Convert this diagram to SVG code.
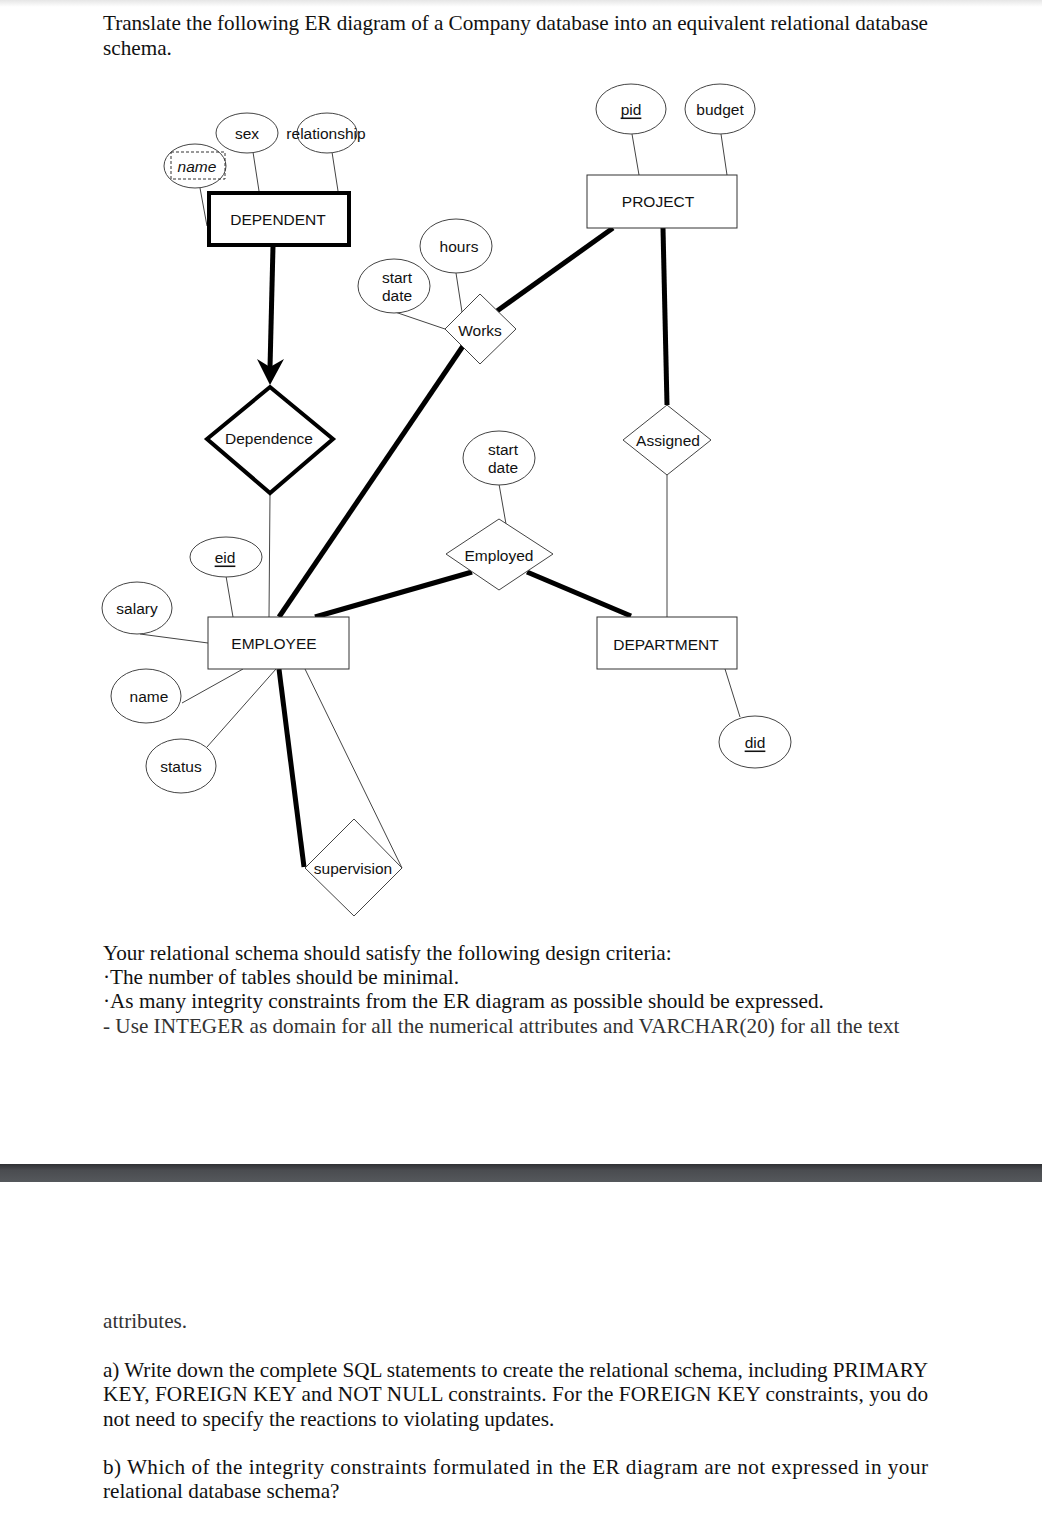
<svg xmlns="http://www.w3.org/2000/svg" width="1042" height="1524" viewBox="0 0 1042 1524">
<defs>
<linearGradient id="bar" x1="0" y1="0" x2="0" y2="1">
<stop offset="0" stop-color="#2f3033"/>
<stop offset="0.35" stop-color="#4a4c50"/>
<stop offset="1" stop-color="#55585c"/>
</linearGradient>
<linearGradient id="topshade" x1="0" y1="0" x2="0" y2="1">
<stop offset="0" stop-color="#e6e6e6"/>
<stop offset="1" stop-color="#ffffff"/>
</linearGradient>
</defs>
<style>
.doc{font-family:"Liberation Serif","Times New Roman",serif;font-size:21.2px;fill:#111}
.lbl{font-family:"Liberation Sans",Arial,Helvetica,sans-serif;font-size:15.5px;fill:#111;text-anchor:middle;dominant-baseline:central}
.attr{fill:#fff;stroke:#444;stroke-width:1}
.ent{fill:#fff;stroke:#333;stroke-width:1}
.weak{fill:#fff;stroke:#000;stroke-width:4}
.rel{fill:#fff;stroke:#444;stroke-width:1}
.thin{stroke:#444;stroke-width:1;fill:none}
.thick{stroke:#000;stroke-width:5;fill:none}
.key{text-decoration:underline}
</style>
<rect x="0" y="0" width="1042" height="1524" fill="#fff"/>
<rect x="0" y="0" width="1042" height="7" fill="url(#topshade)"/>

<text class="doc" x="103" y="30" textLength="825" lengthAdjust="spacing">Translate the following ER diagram of a Company database into an equivalent relational database</text>
<text class="doc" x="103" y="55">schema.</text>

<g id="connectors">
<line class="thin" x1="632" y1="134" x2="639" y2="175"/>
<line class="thin" x1="721" y1="134" x2="727" y2="175"/>
<line class="thin" x1="253" y1="152" x2="259" y2="191"/>
<line class="thin" x1="332" y1="152" x2="338" y2="191"/>
<line class="thin" x1="200" y1="188" x2="207" y2="226"/>
<line class="thin" x1="456" y1="273" x2="462" y2="312"/>
<line class="thin" x1="395" y1="312" x2="445" y2="329"/>
<line class="thin" x1="499" y1="484" x2="506" y2="524"/>
<line class="thin" x1="667" y1="475" x2="667" y2="617"/>
<line class="thin" x1="270" y1="494" x2="269" y2="617"/>
<line class="thin" x1="226" y1="576" x2="233" y2="617"/>
<line class="thin" x1="140" y1="634" x2="208" y2="643"/>
<line class="thin" x1="182" y1="703" x2="243" y2="669"/>
<line class="thin" x1="207" y1="747" x2="276" y2="669"/>
<line class="thin" x1="305" y1="669" x2="402" y2="868"/>
<line class="thin" x1="725" y1="669" x2="740" y2="717"/>
<line class="thick" x1="613" y1="228" x2="497" y2="311"/>
<line class="thick" x1="663" y1="228" x2="667" y2="405"/>
<line class="thick" x1="279" y1="617" x2="463" y2="346"/>
<line class="thick" x1="315" y1="617" x2="472" y2="572"/>
<line class="thick" x1="527" y1="572" x2="631" y2="616"/>
<line class="thick" x1="279" y1="669" x2="304" y2="867"/>
<line class="thick" x1="273" y1="246" x2="270" y2="368"/>
<path d="M257,359 L270,385 L284,359 L270,367 Z" fill="#000"/>
</g>

<g id="pid"><ellipse class="attr" cx="631" cy="109" rx="35" ry="25"/><text class="lbl key" x="631" y="109">pid</text></g>
<g id="budget"><ellipse class="attr" cx="720" cy="109" rx="35" ry="25"/><text class="lbl" x="720" y="109">budget</text></g>
<g id="project"><rect class="ent" x="587" y="175" width="150" height="53"/><text class="lbl" x="658" y="201">PROJECT</text></g>

<g id="sex"><ellipse class="attr" cx="247" cy="133" rx="31" ry="20"/><text class="lbl" x="247" y="133">sex</text></g>
<g id="relationship"><ellipse class="attr" cx="327" cy="133" rx="30" ry="20"/><text class="lbl" x="326" y="133">relationship</text></g>
<g id="dep-name"><ellipse class="attr" cx="195" cy="166" rx="31" ry="22"/><rect x="171" y="152" width="54" height="27" fill="none" stroke="#333" stroke-width="1" stroke-dasharray="3,2"/><text class="lbl" x="197" y="166" font-style="italic">name</text></g>
<g id="dependent"><rect class="weak" x="209" y="193" width="140" height="52"/><text class="lbl" x="278" y="219">DEPENDENT</text></g>

<g id="hours"><ellipse class="attr" cx="456" cy="246" rx="36" ry="27"/><text class="lbl" x="459" y="246">hours</text></g>
<g id="works-start"><ellipse class="attr" cx="394" cy="286" rx="36" ry="27"/><text class="lbl" x="397" y="277">start</text><text class="lbl" x="397" y="295">date</text></g>
<g id="works"><polygon class="rel" points="480,294 516,329 480,364 445,329"/><text class="lbl" x="480" y="330">Works</text></g>

<g id="dependence"><polygon class="weak" points="270,387 333,439 270,493 207,439"/><text class="lbl" x="269" y="438">Dependence</text></g>

<g id="assigned"><polygon class="rel" points="667,405 711,440 667,475 623,440"/><text class="lbl" x="668" y="440">Assigned</text></g>

<g id="employed-start"><ellipse class="attr" cx="499" cy="458" rx="36" ry="27"/><text class="lbl" x="503" y="449">start</text><text class="lbl" x="503" y="467">date</text></g>
<g id="employed"><polygon class="rel" points="499,519 553,554 499,590 446,554"/><text class="lbl" x="499" y="555">Employed</text></g>

<g id="eid"><ellipse class="attr" cx="226" cy="557" rx="36" ry="20"/><text class="lbl key" x="225" y="557">eid</text></g>
<g id="salary"><ellipse class="attr" cx="137" cy="608" rx="35" ry="26"/><text class="lbl" x="137" y="608">salary</text></g>
<g id="employee"><rect class="ent" x="208" y="617" width="141" height="52"/><text class="lbl" x="274" y="643">EMPLOYEE</text></g>
<g id="emp-name"><ellipse class="attr" cx="146" cy="696" rx="35" ry="27"/><text class="lbl" x="149" y="696">name</text></g>
<g id="status"><ellipse class="attr" cx="181" cy="766" rx="35" ry="27"/><text class="lbl" x="181" y="766">status</text></g>
<g id="supervision"><polygon class="rel" points="354,819 402,868 354,916 305,868"/><text class="lbl" x="353" y="868">supervision</text></g>

<g id="department"><rect class="ent" x="597" y="617" width="140" height="52"/><text class="lbl" x="666" y="644">DEPARTMENT</text></g>
<g id="did"><ellipse class="attr" cx="755" cy="742" rx="36" ry="26"/><text class="lbl key" x="755" y="742">did</text></g>

<text class="doc" x="103" y="960">Your relational schema should satisfy the following design criteria:</text>
<text class="doc" x="103" y="984">·The number of tables should be minimal.</text>
<text class="doc" x="103" y="1008">·As many integrity constraints from the ER diagram as possible should be expressed.</text>
<text class="doc" x="103" y="1033" style="fill:#333">- Use INTEGER as domain for all the numerical attributes and VARCHAR(20) for all the text</text>

<rect x="0" y="1164" width="1042" height="18" fill="url(#bar)"/>

<text class="doc" x="103" y="1328" style="fill:#333">attributes.</text>
<text class="doc" x="103" y="1377" textLength="825" lengthAdjust="spacing">a) Write down the complete SQL statements to create the relational schema, including PRIMARY</text>
<text class="doc" x="103" y="1401" textLength="825" lengthAdjust="spacing">KEY, FOREIGN KEY and NOT NULL constraints. For the FOREIGN KEY constraints, you do</text>
<text class="doc" x="103" y="1426">not need to specify the reactions to violating updates.</text>
<text class="doc" x="103" y="1474" textLength="825" lengthAdjust="spacing">b) Which of the integrity constraints formulated in the ER diagram are not expressed in your</text>
<text class="doc" x="103" y="1498">relational database schema?</text>
</svg>
